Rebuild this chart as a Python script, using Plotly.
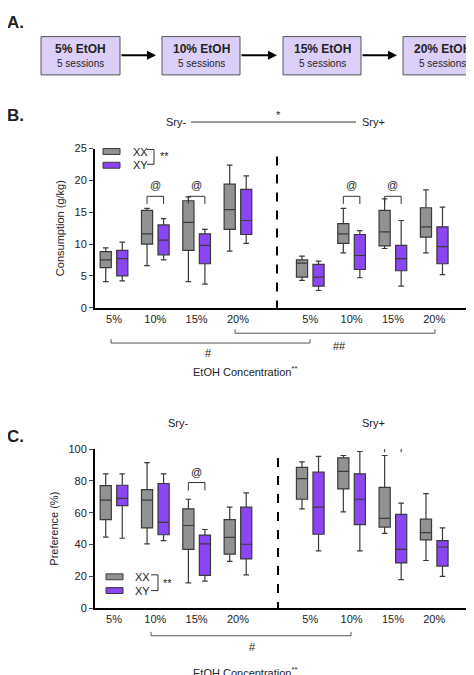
import plotly.graph_objects as go

W, H = 474, 675
conc = ["5%", "10%", "15%", "20%", "5%", "10%", "15%", "20%"]
xpos = [1, 2, 3, 4, 5.75, 6.75, 7.75, 8.75]

# Consumption (g/kg): [low, q1, median, q3, high]
cons_xx = [[4.1, 6.3, 7.5, 8.8, 9.4], [6.6, 10.0, 11.6, 15.3, 15.6], [4.1, 9.0, 13.4, 16.8, 17.4], [8.9, 12.3, 15.4, 19.4, 22.4],
           [4.3, 4.8, 7.0, 7.5, 8.1], [8.6, 10.1, 11.6, 13.2, 15.6], [9.3, 9.7, 11.9, 15.3, 17.1], [8.6, 11.1, 12.7, 15.7, 18.5]]
cons_xy = [[4.2, 5.0, 7.7, 9.0, 10.3], [7.5, 8.3, 10.6, 13.0, 14.0], [3.7, 6.9, 9.8, 11.6, 12.3], [10.1, 11.5, 13.7, 18.6, 20.7],
           [2.7, 3.4, 4.8, 6.8, 7.3], [4.7, 6.0, 8.2, 11.5, 12.1], [3.4, 5.8, 7.7, 9.8, 13.7], [5.2, 6.9, 9.6, 12.7, 15.8]]
# Preference (%)
pref_xx = [[44.7, 55.7, 68, 77, 84.5], [40.5, 50.5, 68, 74.6, 91.5], [16, 37, 52, 62.5, 68.5], [29.5, 34, 44.5, 55.7, 63.5],
           [62.5, 68.5, 81.5, 88.5, 92], [60.5, 75, 86, 94.5, 96], [47, 51, 56.5, 76, 96], [30, 43, 47.5, 56, 72]]
pref_xy = [[44, 64.5, 69, 77.3, 84.5], [42.5, 46.2, 54, 78.4, 84.5], [17, 20.6, 40.4, 46, 49.5], [21, 31, 40.2, 63.5, 72.5],
           [36, 46.5, 63.5, 85.5, 95.5], [36, 52.5, 68.5, 84.5, 98.5], [18, 28.5, 37, 59, 66], [20, 26.5, 38.5, 42.5, 50.5]]

GRAY = "#929292"
PURP = "#8b45f2"
LINE = "#3a3a3a"
OFF = 0.2

def px(x): return x / W
def py(y): return 1 - y / H

fig = go.Figure()

def add_boxes(data, color, off, xa, ya, name):
    for i, s in enumerate(data):
        fig.add_trace(go.Box(
            x=[xpos[i] + off], lowerfence=[s[0]], q1=[s[1]], median=[s[2]], q3=[s[3]], upperfence=[s[4]],
            fillcolor=color, line=dict(color=LINE, width=1.2), whiskerwidth=0.5, width=0.27,
            xaxis=xa, yaxis=ya, name=name, showlegend=False, boxpoints=False, hoverinfo="skip"))

add_boxes(cons_xx, GRAY, -OFF, "x", "y", "XX")
add_boxes(cons_xy, PURP, OFF, "x", "y", "XY")
add_boxes(pref_xx, GRAY, -OFF, "x2", "y2", "XX")
add_boxes(pref_xy, PURP, OFF, "x2", "y2", "XY")

font = dict(family="Liberation Sans, Arial", size=11, color="#222")
xdom = [px(87), px(463)]
axx = dict(range=[0.54, 9.64], tickvals=xpos, ticktext=conc, showline=True, linecolor="black", linewidth=2,
           ticks="", showgrid=False, zeroline=False, tickfont=font, fixedrange=True)
fig.update_layout(
    width=W, height=H, margin=dict(l=0, r=0, t=0, b=0), plot_bgcolor="white", paper_bgcolor="white",
    font=font, showlegend=False, boxmode="overlay",
    xaxis=dict(domain=xdom, anchor="y", **axx),
    yaxis=dict(domain=[py(299), py(137)], range=[0, 25], tickvals=[0, 5, 10, 15, 20, 25], showline=True,
               linecolor="black", linewidth=2, ticks="outside", ticklen=4, showgrid=False, zeroline=False,
               title=dict(text="Consumption (g/kg)", font=font, standoff=8), tickfont=font),
    xaxis2=dict(domain=xdom, anchor="y2", **axx),
    yaxis2=dict(domain=[py(605), py(443)], range=[0, 100], tickvals=[0, 20, 40, 60, 80, 100], showline=True,
                linecolor="black", linewidth=2, ticks="outside", ticklen=4, showgrid=False, zeroline=False,
                title=dict(text="Preference (%)", font=font, standoff=8), tickfont=font),
)

shapes, ann = [], []
def text(x, y, t, size=11, bold=False, anchor="center"):
    ann.append(dict(x=px(x), y=py(y), xref="paper", yref="paper", text=("<b>%s</b>" % t) if bold else t,
                    showarrow=False, xanchor=anchor, yanchor="middle", font=dict(family="Liberation Sans, Arial", size=size, color="#222")))
def line(x0, y0, x1, y1, color="#333", width=1, dash=None):
    shapes.append(dict(type="line", xref="paper", yref="paper", x0=px(x0), y0=py(y0), x1=px(x1), y1=py(y1),
                       line=dict(color=color, width=width, dash=dash)))

# Panel A
text(8, 9, "A.", 17, True)
stages = ["5% EtOH", "10% EtOH", "15% EtOH", "20% EtOH"]
bx = [(33, 112), (154, 232), (275, 353), (395, 473)]
for (a, b), s in zip(bx, stages):
    shapes.append(dict(type="rect", xref="paper", yref="paper", x0=px(a), x1=px(b), y0=py(62), y1=py(23),
                       fillcolor="#dccff7", line=dict(color="#555", width=1)))
    text((a + b) / 2, 36, s, 12, True)
    text((a + b) / 2, 50, "5 sessions", 10)
for (a, b), (c, d) in zip(bx[:-1], bx[1:]):
    ann.append(dict(x=px(c - 6), y=py(42), ax=-(c - 6 - b), ay=0, xref="paper", yref="paper",
                    showarrow=True, arrowhead=2, arrowsize=1, arrowwidth=1.8, arrowcolor="black", text=""))

# Panel B
text(8, 103, "B.", 17, True)
text(168, 110, "Sry-", 11); text(365, 110, "Sry+", 11); line(183, 110, 348, 110); text(270, 103, "*", 11)
line(269, 145, 269, 299, "black", 2, "dash")
for yy, c, t in [(140, GRAY, "XX"), (154, PURP, "XY")]:
    shapes.append(dict(type="rect", xref="paper", yref="paper", x0=px(95), x1=px(112), y0=py(yy + 3), y1=py(yy - 3),
                       fillcolor=c, line=dict(color=LINE, width=1)))
    text(123, yy, t, 11, anchor="left")
line(139, 138, 146, 138); line(146, 138, 146, 153); line(139, 153, 146, 153); text(156, 145, "**", 11)
for i, yv in [(1, 17.5), (2, 17.5), (5, 17.5), (6, 17.5)]:
    x0, x1 = xpos[i] - OFF, xpos[i] + OFF
    for a0, b0, a1, b1 in [(x0, yv - 1.2, x0, yv), (x0, yv, x1, yv), (x1, yv, x1, yv - 1.2)]:
        shapes.append(dict(type="line", xref="x", yref="y", x0=a0, y0=b0, x1=a1, y1=b1, line=dict(color="#333", width=1)))
    fig.add_annotation(x=xpos[i], y=yv + 0.5, xref="x", yref="y", text="@", showarrow=False, yanchor="bottom", font=font)
line(227, 325, 427, 325, "#555"); line(227, 325, 227, 321, "#555"); line(427, 325, 427, 321, "#555")
line(103, 335, 302, 335, "#555"); line(103, 335, 103, 331, "#555"); line(302, 335, 302, 331, "#555")
text(200, 345, "#", 11); text(331, 338, "##", 11)
text(237, 363, "EtOH Concentration<sup>**</sup>", 11)

# Panel C
text(8, 430, "C.", 17, True)
text(170, 416, "Sry-", 11); text(365, 416, "Sry+", 11)
line(270, 452, 270, 605, "black", 2, "dash")
for yy, c, t in [(573, GRAY, "XX"), (587, PURP, "XY")]:
    shapes.append(dict(type="rect", xref="paper", yref="paper", x0=px(98), x1=px(115), y0=py(yy + 3), y1=py(yy - 3),
                       fillcolor=c, line=dict(color=LINE, width=1)))
    text(125, yy, t, 11, anchor="left")
line(143, 571, 150, 571); line(150, 571, 150, 587); line(143, 587, 150, 587); text(159, 579, "**", 11)
for i, yv in [(2, 79), (6, 103)]:
    x0, x1 = xpos[i] - OFF, xpos[i] + OFF
    for a0, b0, a1, b1 in [(x0, yv - 5, x0, yv), (x0, yv, x1, yv), (x1, yv, x1, yv - 5)]:
        shapes.append(dict(type="line", xref="x2", yref="y2", x0=a0, y0=b0, x1=a1, y1=b1, line=dict(color="#333", width=1)))
    fig.add_annotation(x=xpos[i], y=yv + 1.5, xref="x2", yref="y2", text="@", showarrow=False, yanchor="bottom", font=font)
line(143, 633, 343, 633, "#555"); line(143, 633, 143, 629, "#555"); line(343, 633, 343, 629, "#555")
text(244, 644, "#", 11)
text(237, 670, "EtOH Concentration<sup>**</sup>", 11)

fig.update_layout(shapes=shapes, annotations=list(fig.layout.annotations) + ann)
fig.write_html("out.html")
